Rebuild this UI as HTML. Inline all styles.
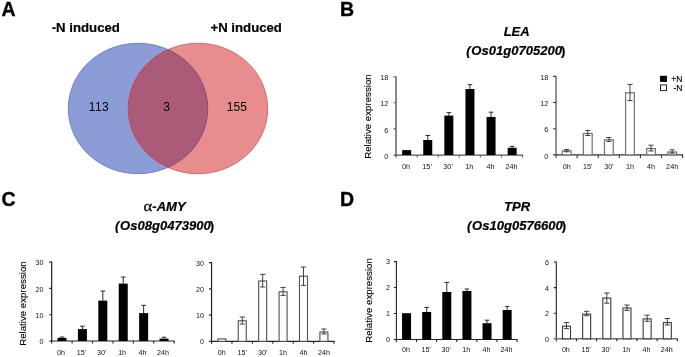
<!DOCTYPE html>
<html><head><meta charset="utf-8"><title>Figure</title>
<style>
html,body{margin:0;padding:0;background:#fff;}
svg{display:block;filter:blur(0.3px);}
text{font-family:"Liberation Sans",Arial,Helvetica,sans-serif;fill:#000;}
.pl{font-size:19.5px;font-weight:bold;stroke:#000;stroke-width:0.35px;}
.vh{font-size:13.2px;font-weight:bold;stroke:#000;stroke-width:0.2px;}
.vn{font-size:12px;}
.gt{font-size:13.05px;font-weight:bold;font-style:italic;stroke:#000;stroke-width:0.2px;}
.pr{font-style:normal;}
.al{font-family:"Liberation Serif","DejaVu Serif",serif;font-style:normal;font-weight:normal;font-size:14.3px;stroke:#000;stroke-width:0.25px;}
.re{font-size:9.7px;stroke:#000;stroke-width:0.12px;}
.t{font-size:7.6px;fill:#111;transform-box:fill-box;transform-origin:50% 81%;transform:scale(0.94,1.06);}
.tb{transform:scale(0.95,0.98);}
.ty{transform-origin:100% 81%;}
.lg{font-size:8.5px;stroke:#000;stroke-width:0.15px;}
</style></head><body>
<svg width="685" height="357" viewBox="0 0 685 357">
<rect width="685" height="357" fill="#fff"/>
<defs><clipPath id="cb"><ellipse cx="138" cy="108.5" rx="70.1" ry="65.6"/></clipPath><clipPath id="cr"><ellipse cx="198" cy="108.5" rx="70.1" ry="65.6"/></clipPath></defs>
<ellipse cx="138" cy="108.5" rx="69.7" ry="65.2" fill="#8c9cd7" stroke="#6579cc" stroke-width="0.9"/>
<ellipse cx="198" cy="108.5" rx="69.7" ry="65.2" fill="#e78d8d" stroke="#da5f5f" stroke-width="0.9"/>
<g clip-path="url(#cb)"><ellipse cx="198" cy="108.5" rx="69.7" ry="65.2" fill="#ab5a78" stroke="#c04a5c" stroke-width="0.9"/></g>
<g clip-path="url(#cr)"><ellipse cx="138" cy="108.5" rx="69.7" ry="65.2" fill="none" stroke="#8a4e84" stroke-width="0.9"/></g>

<text x="1.6" y="16" class="pl">A</text>
<text x="340.0" y="16" class="pl">B</text>
<text x="1.5" y="206" class="pl">C</text>
<text x="340.0" y="206" class="pl">D</text>
<text x="85.8" y="32.4" text-anchor="middle" class="vh">-N induced</text>
<text x="246.2" y="32.4" text-anchor="middle" class="vh">+N induced</text>
<text x="98.9" y="111.4" text-anchor="middle" class="vn" style="letter-spacing:0.45px">113</text>
<text x="166.7" y="111.4" text-anchor="middle" class="vn">3</text>
<text x="236.9" y="111.4" text-anchor="middle" class="vn" style="letter-spacing:0.15px">155</text>
<text x="516.70" y="35.7" text-anchor="middle" class="gt">LEA</text><text x="515.8" y="55.2" text-anchor="middle" class="gt">(<tspan dx="0.7">Os01g0705200</tspan><tspan class="pr" dx="-1.0">)</tspan></text>
<text transform="translate(143.50 210.80) scale(1.16 1)" class="al">α</text><text x="152.30" y="210.7" class="gt">-AMY</text><text x="164.5" y="230.2" text-anchor="middle" class="gt">(<tspan dx="0.7">Os08g0473900</tspan><tspan class="pr" dx="-1.0">)</tspan></text>
<text x="517.10" y="210.7" text-anchor="middle" class="gt">TPR</text><text x="516.6" y="230.2" text-anchor="middle" class="gt">(<tspan dx="0.7">Os10g0576600</tspan><tspan class="pr" dx="-1.0">)</tspan></text>
<text transform="translate(371.3 116.6) rotate(-90)" text-anchor="middle" class="re">Relative expression</text>
<text transform="translate(25.6 303.6) rotate(-90)" text-anchor="middle" class="re">Relative expression</text>
<text transform="translate(371.8 300.4) rotate(-90)" text-anchor="middle" class="re">Relative expression</text>
<path d="M396.00 76.20V157.50" stroke="#606060" stroke-width="1.5" fill="none"/>
<path d="M393.50 155.00H523.00" stroke="#555" stroke-width="1.25" fill="none"/>
<text x="388.30" y="158.62" text-anchor="end" class="t tb ty">0</text>
<text x="388.30" y="132.52" text-anchor="end" class="t tb ty">6</text>
<text x="388.30" y="106.42" text-anchor="end" class="t tb ty">12</text>
<text x="388.30" y="80.32" text-anchor="end" class="t tb ty">18</text>
<path d="M393.50 128.90H396.00M393.50 102.80H396.00M393.50 76.70H396.00M417.10 155.00V157.50M438.20 155.00V157.50M459.30 155.00V157.50M480.40 155.00V157.50M501.50 155.00V157.50M522.60 155.00V157.50" stroke="#606060" stroke-width="1.1" fill="none"/>
<rect x="402.15" y="150.10" width="9.00" height="4.90" fill="#000"/>
<text x="406.05" y="168.60" text-anchor="middle" class="t tb">0h</text>
<rect x="423.25" y="140.00" width="9.00" height="15.00" fill="#000"/>
<path d="M427.75 135.50V140.00M425.45 135.50H430.05" stroke="#222" stroke-width="0.95" fill="none"/>
<text x="427.15" y="168.60" text-anchor="middle" class="t tb">15<tspan dx="0.6">&#39;</tspan></text>
<rect x="444.35" y="115.60" width="9.00" height="39.40" fill="#000"/>
<path d="M448.85 112.60V115.60M446.55 112.60H451.15" stroke="#222" stroke-width="0.95" fill="none"/>
<text x="448.25" y="168.60" text-anchor="middle" class="t tb">30<tspan dx="0.6">&#39;</tspan></text>
<rect x="465.45" y="89.00" width="9.00" height="66.00" fill="#000"/>
<path d="M469.95 84.60V89.00M467.65 84.60H472.25" stroke="#222" stroke-width="0.95" fill="none"/>
<text x="469.35" y="168.60" text-anchor="middle" class="t tb">1h</text>
<rect x="486.55" y="117.00" width="9.00" height="38.00" fill="#000"/>
<path d="M491.05 112.20V117.00M488.75 112.20H493.35" stroke="#222" stroke-width="0.95" fill="none"/>
<text x="490.45" y="168.60" text-anchor="middle" class="t tb">4h</text>
<rect x="507.65" y="147.80" width="9.00" height="7.20" fill="#000"/>
<path d="M512.15 146.40V147.80M509.85 146.40H514.45" stroke="#222" stroke-width="0.95" fill="none"/>
<text x="511.55" y="168.60" text-anchor="middle" class="t tb">24h</text>
<path d="M556.05 75.90V157.90" stroke="#707070" stroke-width="1.5" fill="none"/>
<path d="M553.05 154.90H683.00" stroke="#333" stroke-width="1.1" fill="none"/>
<text x="548.35" y="158.62" text-anchor="end" class="t tb ty">0</text>
<text x="548.35" y="132.45" text-anchor="end" class="t tb ty">6</text>
<text x="548.35" y="106.29" text-anchor="end" class="t tb ty">12</text>
<text x="548.35" y="80.12" text-anchor="end" class="t tb ty">18</text>
<path d="M553.05 128.73H556.05M553.05 102.57H556.05M553.05 76.40H556.05M577.14 154.90V157.90M598.23 154.90V157.90M619.33 154.90V157.90M640.42 154.90V157.90M661.51 154.90V157.90M682.60 154.90V157.90" stroke="#333" stroke-width="1.1" fill="none"/>
<rect x="562.30" y="150.90" width="8.80" height="4.00" fill="#fff" stroke="#757575" stroke-width="1.25"/>
<path d="M566.70 149.60V151.80M564.10 149.60H569.30M564.10 151.80H569.30" stroke="#222" stroke-width="0.85" fill="none"/>
<text x="566.70" y="168.60" text-anchor="middle" class="t tb">0h</text>
<rect x="583.39" y="133.50" width="8.80" height="21.40" fill="#fff" stroke="#757575" stroke-width="1.25"/>
<path d="M587.79 130.40V135.50M585.19 130.40H590.39M585.19 135.50H590.39" stroke="#222" stroke-width="0.85" fill="none"/>
<text x="587.79" y="168.60" text-anchor="middle" class="t tb">15'</text>
<rect x="604.48" y="139.80" width="8.80" height="15.10" fill="#fff" stroke="#757575" stroke-width="1.25"/>
<path d="M608.88 137.50V141.40M606.28 137.50H611.48M606.28 141.40H611.48" stroke="#222" stroke-width="0.85" fill="none"/>
<text x="608.88" y="168.60" text-anchor="middle" class="t tb">30'</text>
<rect x="625.57" y="92.80" width="8.80" height="62.10" fill="#fff" stroke="#757575" stroke-width="1.25"/>
<path d="M629.97 84.40V100.60M627.37 84.40H632.57M627.37 100.60H632.57" stroke="#222" stroke-width="0.85" fill="none"/>
<text x="629.97" y="168.60" text-anchor="middle" class="t tb">1h</text>
<rect x="646.66" y="148.60" width="8.80" height="6.30" fill="#fff" stroke="#757575" stroke-width="1.25"/>
<path d="M651.06 145.20V151.00M648.46 145.20H653.66M648.46 151.00H653.66" stroke="#222" stroke-width="0.85" fill="none"/>
<text x="651.06" y="168.60" text-anchor="middle" class="t tb">4h</text>
<rect x="667.75" y="152.00" width="8.80" height="2.90" fill="#fff" stroke="#757575" stroke-width="1.25"/>
<path d="M672.15 149.80V153.20M669.55 149.80H674.75M669.55 153.20H674.75" stroke="#222" stroke-width="0.85" fill="none"/>
<text x="672.15" y="168.60" text-anchor="middle" class="t tb">24h</text>
<g transform="translate(0 -0.4)"><path d="M51.70 262.00V343.90" stroke="#222" stroke-width="1.2" fill="none"/>
<path d="M49.20 341.40H174.55" stroke="#222" stroke-width="1.2" fill="none"/>
<text x="43.40" y="344.62" text-anchor="end" class="t ty">0</text>
<text x="43.40" y="318.32" text-anchor="end" class="t ty">10</text>
<text x="43.40" y="292.02" text-anchor="end" class="t ty">20</text>
<text x="43.40" y="265.72" text-anchor="end" class="t ty">30</text>
<path d="M49.20 315.10H51.70M49.20 288.80H51.70M49.20 262.50H51.70M72.11 341.40V343.90M92.52 341.40V343.90M112.93 341.40V343.90M133.33 341.40V343.90M153.74 341.40V343.90M174.15 341.40V343.90" stroke="#222" stroke-width="1.1" fill="none"/>
<rect x="57.50" y="338.30" width="9.00" height="3.10" fill="#000"/>
<path d="M62.00 337.40V338.30M59.70 337.40H64.30" stroke="#222" stroke-width="0.95" fill="none"/>
<text x="60.90" y="355.30" text-anchor="middle" class="t">0h</text>
<rect x="77.91" y="329.50" width="9.00" height="11.90" fill="#000"/>
<path d="M82.41 326.60V329.50M80.11 326.60H84.71" stroke="#222" stroke-width="0.95" fill="none"/>
<text x="81.31" y="355.30" text-anchor="middle" class="t">15'</text>
<rect x="98.32" y="301.00" width="9.00" height="40.40" fill="#000"/>
<path d="M102.82 291.40V301.00M100.52 291.40H105.12" stroke="#222" stroke-width="0.95" fill="none"/>
<text x="101.72" y="355.30" text-anchor="middle" class="t">30'</text>
<rect x="118.73" y="284.00" width="9.00" height="57.40" fill="#000"/>
<path d="M123.23 277.40V284.00M120.93 277.40H125.53" stroke="#222" stroke-width="0.95" fill="none"/>
<text x="122.13" y="355.30" text-anchor="middle" class="t">1h</text>
<rect x="139.14" y="313.50" width="9.00" height="27.90" fill="#000"/>
<path d="M143.64 305.70V313.50M141.34 305.70H145.94" stroke="#222" stroke-width="0.95" fill="none"/>
<text x="142.54" y="355.30" text-anchor="middle" class="t">4h</text>
<rect x="159.55" y="339.00" width="9.00" height="2.40" fill="#000"/>
<path d="M164.05 337.60V339.00M161.75 337.60H166.35" stroke="#222" stroke-width="0.95" fill="none"/>
<text x="162.95" y="355.30" text-anchor="middle" class="t">24h</text></g>
<path d="M211.55 262.10V343.85" stroke="#222" stroke-width="1.2" fill="none"/>
<path d="M209.05 341.35H334.40" stroke="#222" stroke-width="1.2" fill="none"/>
<text x="204.00" y="344.52" text-anchor="end" class="t ty">0</text>
<text x="204.00" y="318.27" text-anchor="end" class="t ty">10</text>
<text x="204.00" y="292.02" text-anchor="end" class="t ty">20</text>
<text x="204.00" y="265.77" text-anchor="end" class="t ty">30</text>
<path d="M209.05 315.10H211.55M209.05 288.85H211.55M209.05 262.60H211.55M231.96 341.35V343.85M252.37 341.35V343.85M272.77 341.35V343.85M293.18 341.35V343.85M313.59 341.35V343.85M334.00 341.35V343.85" stroke="#222" stroke-width="1.1" fill="none"/>
<rect x="217.85" y="338.90" width="8.00" height="2.45" fill="#fff" stroke="#505050" stroke-width="1.1"/>
<text x="221.85" y="354.90" text-anchor="middle" class="t">0h</text>
<rect x="238.26" y="320.80" width="8.00" height="20.55" fill="#fff" stroke="#505050" stroke-width="1.1"/>
<path d="M242.26 317.00V324.00M239.66 317.00H244.86M239.66 324.00H244.86" stroke="#222" stroke-width="0.85" fill="none"/>
<text x="242.26" y="354.90" text-anchor="middle" class="t">15'</text>
<rect x="258.67" y="281.00" width="8.00" height="60.35" fill="#fff" stroke="#505050" stroke-width="1.1"/>
<path d="M262.67 274.40V287.00M260.07 274.40H265.27M260.07 287.00H265.27" stroke="#222" stroke-width="0.85" fill="none"/>
<text x="262.67" y="354.90" text-anchor="middle" class="t">30'</text>
<rect x="279.08" y="291.80" width="8.00" height="49.55" fill="#fff" stroke="#505050" stroke-width="1.1"/>
<path d="M283.08 287.40V295.40M280.48 287.40H285.68M280.48 295.40H285.68" stroke="#222" stroke-width="0.85" fill="none"/>
<text x="283.08" y="354.90" text-anchor="middle" class="t">1h</text>
<rect x="299.49" y="276.20" width="8.00" height="65.15" fill="#fff" stroke="#505050" stroke-width="1.1"/>
<path d="M303.49 267.00V285.40M300.89 267.00H306.09M300.89 285.40H306.09" stroke="#222" stroke-width="0.85" fill="none"/>
<text x="303.49" y="354.90" text-anchor="middle" class="t">4h</text>
<rect x="319.90" y="332.00" width="8.00" height="9.35" fill="#fff" stroke="#505050" stroke-width="1.1"/>
<path d="M323.90 329.00V334.00M321.30 329.00H326.50M321.30 334.00H326.50" stroke="#222" stroke-width="0.85" fill="none"/>
<text x="323.90" y="354.90" text-anchor="middle" class="t">24h</text>
<path d="M396.40 261.10V342.00" stroke="#222" stroke-width="1.1" fill="none"/>
<path d="M393.90 339.50H517.50" stroke="#222" stroke-width="1.1" fill="none"/>
<text x="390.10" y="342.22" text-anchor="end" class="t ty">0</text>
<text x="390.10" y="316.25" text-anchor="end" class="t ty">1</text>
<text x="390.10" y="290.29" text-anchor="end" class="t ty">2</text>
<text x="390.10" y="264.32" text-anchor="end" class="t ty">3</text>
<path d="M393.90 313.53H396.40M393.90 287.57H396.40M393.90 261.60H396.40M416.52 339.50V342.00M436.63 339.50V342.00M456.75 339.50V342.00M476.87 339.50V342.00M496.98 339.50V342.00M517.10 339.50V342.00" stroke="#222" stroke-width="1.1" fill="none"/>
<rect x="402.06" y="313.20" width="9.00" height="26.30" fill="#000"/>
<text x="405.96" y="352.40" text-anchor="middle" class="t">0h</text>
<rect x="422.18" y="312.00" width="9.00" height="27.50" fill="#000"/>
<path d="M426.68 307.40V312.00M424.38 307.40H428.98" stroke="#222" stroke-width="0.95" fill="none"/>
<text x="426.07" y="352.40" text-anchor="middle" class="t">15'</text>
<rect x="442.29" y="292.00" width="9.00" height="47.50" fill="#000"/>
<path d="M446.79 282.40V292.00M444.49 282.40H449.09" stroke="#222" stroke-width="0.95" fill="none"/>
<text x="446.19" y="352.40" text-anchor="middle" class="t">30'</text>
<rect x="462.41" y="291.00" width="9.00" height="48.50" fill="#000"/>
<path d="M466.91 289.00V291.00M464.61 289.00H469.21" stroke="#222" stroke-width="0.95" fill="none"/>
<text x="466.31" y="352.40" text-anchor="middle" class="t">1h</text>
<rect x="482.53" y="323.20" width="9.00" height="16.30" fill="#000"/>
<path d="M487.03 320.20V323.20M484.73 320.20H489.33" stroke="#222" stroke-width="0.95" fill="none"/>
<text x="486.43" y="352.40" text-anchor="middle" class="t">4h</text>
<rect x="502.64" y="310.00" width="9.00" height="29.50" fill="#000"/>
<path d="M507.14 306.60V310.00M504.84 306.60H509.44" stroke="#222" stroke-width="0.95" fill="none"/>
<text x="506.54" y="352.40" text-anchor="middle" class="t">24h</text>
<path d="M556.30 261.50V341.30" stroke="#222" stroke-width="1.1" fill="none"/>
<path d="M553.80 338.80H677.70" stroke="#707070" stroke-width="1.5" fill="none"/>
<text x="548.90" y="342.02" text-anchor="end" class="t ty">0</text>
<text x="548.90" y="316.42" text-anchor="end" class="t ty">2</text>
<text x="548.90" y="290.82" text-anchor="end" class="t ty">4</text>
<text x="548.90" y="265.22" text-anchor="end" class="t ty">6</text>
<path d="M553.80 313.20H556.30M553.80 287.60H556.30M553.80 262.00H556.30M576.47 338.80V341.30M596.63 338.80V341.30M616.80 338.80V341.30M636.97 338.80V341.30M657.13 338.80V341.30M677.30 338.80V341.30" stroke="#222" stroke-width="1.1" fill="none"/>
<rect x="562.48" y="326.20" width="8.00" height="12.60" fill="#fff" stroke="#3a3a3a" stroke-width="1.1"/>
<path d="M566.48 322.50V328.60M563.88 322.50H569.08M563.88 328.60H569.08" stroke="#222" stroke-width="0.85" fill="none"/>
<text x="565.88" y="352.40" text-anchor="middle" class="t">0h</text>
<rect x="582.65" y="314.10" width="8.00" height="24.70" fill="#fff" stroke="#3a3a3a" stroke-width="1.1"/>
<path d="M586.65 311.30V315.70M584.05 311.30H589.25M584.05 315.70H589.25" stroke="#222" stroke-width="0.85" fill="none"/>
<text x="586.05" y="352.40" text-anchor="middle" class="t">15'</text>
<rect x="602.82" y="298.10" width="8.00" height="40.70" fill="#fff" stroke="#3a3a3a" stroke-width="1.1"/>
<path d="M606.82 293.00V303.20M604.22 293.00H609.42M604.22 303.20H609.42" stroke="#222" stroke-width="0.85" fill="none"/>
<text x="606.22" y="352.40" text-anchor="middle" class="t">30'</text>
<rect x="622.98" y="308.00" width="8.00" height="30.80" fill="#fff" stroke="#3a3a3a" stroke-width="1.1"/>
<path d="M626.98 305.00V310.40M624.38 305.00H629.58M624.38 310.40H629.58" stroke="#222" stroke-width="0.85" fill="none"/>
<text x="626.38" y="352.40" text-anchor="middle" class="t">1h</text>
<rect x="643.15" y="318.90" width="8.00" height="19.90" fill="#fff" stroke="#3a3a3a" stroke-width="1.1"/>
<path d="M647.15 315.20V321.30M644.55 315.20H649.75M644.55 321.30H649.75" stroke="#222" stroke-width="0.85" fill="none"/>
<text x="646.55" y="352.40" text-anchor="middle" class="t">4h</text>
<rect x="663.32" y="322.60" width="8.00" height="16.20" fill="#fff" stroke="#3a3a3a" stroke-width="1.1"/>
<path d="M667.32 318.50V325.00M664.72 318.50H669.92M664.72 325.00H669.92" stroke="#222" stroke-width="0.85" fill="none"/>
<text x="666.72" y="352.40" text-anchor="middle" class="t">24h</text>
<rect x="660.0" y="75.8" width="7" height="6.1" fill="#000"/>
<rect x="660.5" y="84.9" width="6" height="5.7" fill="#fff" stroke="#222" stroke-width="1"/>
<text x="682.4" y="81.9" text-anchor="end" class="lg">+N</text>
<text x="682.4" y="90.9" text-anchor="end" class="lg">-N</text>
</svg>
</body></html>
